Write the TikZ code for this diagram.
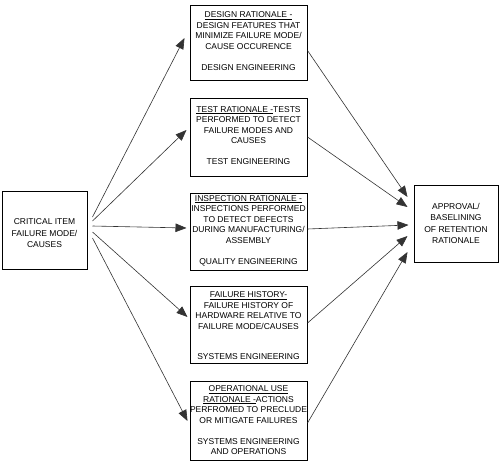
\documentclass[tikz,border=0pt]{standalone}
\usepackage{fontspec}
\setmainfont{Liberation Sans}
\usetikzlibrary{arrows.meta}
\newcommand\myul[1]{\setbox0\hbox{#1}\rlap{\rule[-1.4pt]{\wd0}{0.5pt}}\box0}
\begin{document}
\begin{tikzpicture}[x=1pt,y=-1pt,
  boxnode/.style={draw=black,line width=1pt,rectangle,inner sep=0pt},
  txt/.style={inner sep=0pt,align=center,font=\fontsize{8.5}{10.5}\selectfont},
  arr/.style={draw=black!80,line width=0.6pt,-{Triangle[length=11pt,width=8.5pt]}}]
\useasboundingbox[fill=white] (0,0) rectangle (500,463);

\node[boxnode,minimum width=85,minimum height=78,
      font=\fontsize{8.5}{11.5}\selectfont,align=center] (L) at (44.5,230)
  {\rule{0pt}{13pt}CRITICAL ITEM\\FAILURE MODE/\\CAUSES};
\node[boxnode,minimum width=84,minimum height=77,
      font=\fontsize{8.5}{11.5}\selectfont,align=center] (R) at (456,223.5)
  {APPROVAL/\\BASELINING\\OF RETENTION\\RATIONALE};

\node[boxnode,minimum width=117,minimum height=75] (B1) at (248.5,42.5) {};
\node[boxnode,minimum width=117,minimum height=78] (B2) at (248.5,137) {};
\node[boxnode,minimum width=117,minimum height=77] (B3) at (248.5,231.5) {};
\node[boxnode,minimum width=117,minimum height=77] (B4) at (248.5,324.5) {};
\node[boxnode,minimum width=117,minimum height=79] (B5) at (248.5,420.5) {};

\node[txt,anchor=north] (t1) at ([yshift=-7pt]B1.north)
  {\myul{DESIGN RATIONALE -}\\DESIGN FEATURES THAT\\MINIMIZE FAILURE MODE/\\CAUSE OCCURENCE\\[10.5pt]DESIGN ENGINEERING};
\node[txt,anchor=north] (t2) at ([yshift=-8.8pt]B2.north)
  {\myul{TEST RATIONALE -}TESTS\\PERFORMED TO DETECT\\FAILURE MODES AND\\CAUSES\\[10.5pt]TEST ENGINEERING};
\node[txt,anchor=north] (t3) at ([yshift=-2.8pt]B3.north)
  {\myul{INSPECTION RATIONALE -}\\INSPECTIONS PERFORMED\\TO DETECT DEFECTS\\DURING MANUFACTURING/\\ASSEMBLY\\[10.5pt]QUALITY ENGINEERING};
\node[txt,anchor=north] (t4) at ([yshift=-6.3pt]B4.north)
  {\myul{FAILURE HISTORY-}\\FAILURE HISTORY OF\\HARDWARE RELATIVE TO\\FAILURE MODE/CAUSES\\[19.5pt]SYSTEMS ENGINEERING};
\node[txt,anchor=north] (t5) at ([yshift=-5pt]B5.north)
  {\myul{OPERATIONAL USE}\\\myul{RATIONALE -}ACTIONS\\PERFROMED TO PRECLUDE\\OR MITIGATE FAILURES\\[10.5pt]SYSTEMS ENGINEERING\\AND OPERATIONS};

\draw[arr] ([shift={(5,-13)}]L.east) -- ([shift={(-5,-4.5)}]B1.west);
\draw[arr] ([shift={(5,-9)}]L.east) -- ([shift={(-3,-7)}]B2.west);
\draw[arr] ([shift={(5,-4)}]L.east) -- ([shift={(-3,-3.5)}]B3.west);
\draw[arr] ([shift={(5,2)}]L.east) -- ([shift={(-2,-7.5)}]B4.west);
\draw[arr] ([shift={(5,8)}]L.east) -- ([shift={(-2,0.5)}]B5.west);

\draw[arr] ([shift={(0,8)}]B1.east) -- ([shift={(-6,-26.5)}]R.west);
\draw[arr] ([shift={(0,0)}]B2.east) -- ([shift={(-6,-16.5)}]R.west);
\draw[arr] ([shift={(0,-2.5)}]B3.east) -- ([shift={(-5,1.5)}]R.west);
\draw[arr] ([shift={(0,-1.5)}]B4.east) -- ([shift={(-6,12.5)}]R.west);
\draw[arr] ([shift={(0,2.5)}]B5.east) -- ([shift={(-6,28.5)}]R.west);
\end{tikzpicture}
\end{document}
